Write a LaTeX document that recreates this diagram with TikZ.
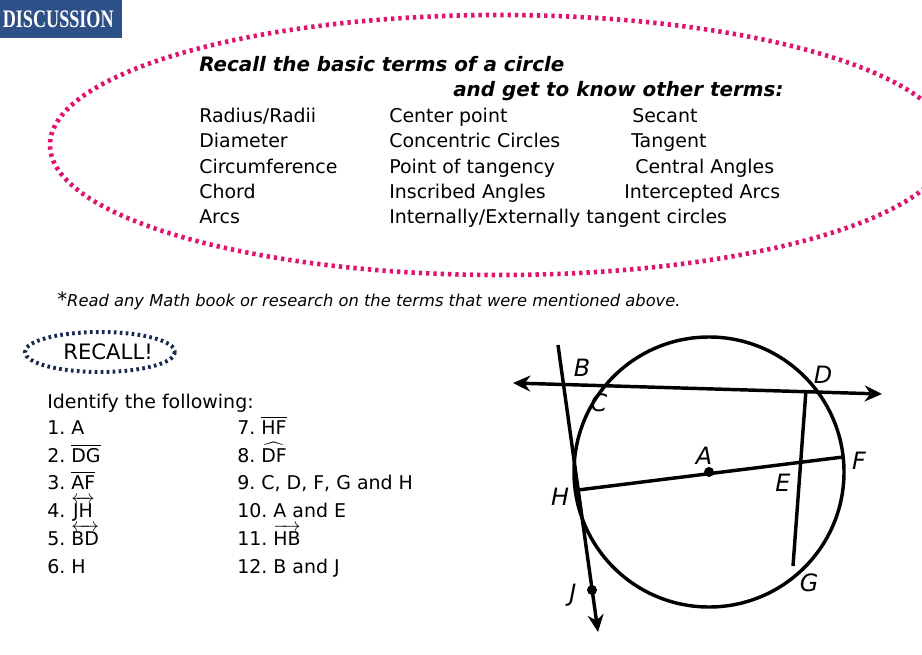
\documentclass[tikz,border=0pt]{standalone}
\usepackage{amsmath}
\usepackage{fontspec}
\setmainfont{DejaVu Sans}
\newfontfamily\badgefont{Liberation Serif}
\usetikzlibrary{arrows.meta}
\definecolor{dotpink}{RGB}{222,20,110}
\definecolor{badgeblue}{RGB}{44,80,135}
\definecolor{recallnavy}{RGB}{25,40,80}
\tikzset{
termtext/.style={anchor=base west, font=\fontsize{14.3}{16}\selectfont, inner sep=0pt},
listtext/.style={anchor=base west, font=\fontsize{14.3}{16}\selectfont, inner sep=0pt},
ptlabel/.style={font=\fontsize{18}{20}\selectfont\itshape},
geoline/.style={line width=2.6pt},
arrowline/.style={line width=2.6pt, -{Stealth[length=13pt,width=12pt]}},
}
\begin{document}
\begin{tikzpicture}[x=0.0265cm, y=-0.0265cm]
\useasboundingbox (0,0) rectangle (922,655);
\clip (0,0) rectangle (922,655);

%Banner
\node[fill=badgeblue, text=white, minimum width=128*0.0265cm, minimum height=38*0.0265cm, anchor=north west, inner sep=0pt,
  font=\badgefont\bfseries\fontsize{19}{21}\selectfont] (discussion_node) at (-6,0) {\scalebox{0.72}[1]{DISCUSSION}};

%Big ellipse
\draw[dotpink, line width=3.5pt, dash pattern=on 2.5pt off 3pt] (500,145) ellipse [x radius=450, y radius=130];
\node[termtext, font=\fontsize{15}{17}\selectfont\bfseries\itshape] (recall_head) at (199,72) {Recall the basic terms of a circle};
\node[termtext, font=\fontsize{15}{17}\selectfont\bfseries\itshape] (recall_sub) at (453,97) {and get to know other terms:};
\node[termtext] (t11) at (199,123) {Radius/Radii};
\node[termtext] (t12) at (389,123) {Center point};
\node[termtext] (t13) at (632,123) {Secant};
\node[termtext] (t21) at (199,148) {Diameter};
\node[termtext] (t22) at (389,148) {Concentric Circles};
\node[termtext] (t23) at (631,148) {Tangent};
\node[termtext] (t31) at (199,174) {Circumference};
\node[termtext] (t32) at (389,174) {Point of tangency};
\node[termtext] (t33) at (635,174) {Central Angles};
\node[termtext] (t41) at (199,199) {Chord};
\node[termtext] (t42) at (389,199) {Inscribed Angles};
\node[termtext] (t43) at (624,199) {Intercepted Arcs};
\node[termtext] (t51) at (199,224) {Arcs};
\node[termtext] (t52) at (389,224) {Internally/Externally tangent circles};

\node[termtext, font=\fontsize{12.3}{14}\selectfont] (note_node) at (57,306) {{\fontsize{15}{16}\selectfont*}\itshape Read any Math book or research on the terms that were mentioned above.};

%Recall
\draw[recallnavy, line width=3pt, dash pattern=on 2pt off 2.5pt] (100,352) ellipse [x radius=75, y radius=20];
\node[termtext, font=\fontsize{16}{18}\selectfont] (recall_node) at (63,359) {RECALL!};
\node[listtext] (identify_node) at (47,408) {Identify the following:};
\node[listtext] (q1) at (47,434) {1.\ A};
\node[listtext] (q2) at (47,462) {2.\ $\overline{\mathrm{DG}}$};
\node[listtext] (q3) at (47,489) {3.\ $\overline{\mathrm{AF}}$};
\node[listtext] (q4) at (47,517) {4.\ $\overleftrightarrow{\mathrm{JH}}$};
\node[listtext] (q5) at (47,545) {5.\ $\overleftrightarrow{\mathrm{BD}}$};
\node[listtext] (q6) at (47,573) {6.\ H};
\node[listtext] (q7) at (237,434) {7.\ $\overline{\mathrm{HF}}$};
\node[listtext] (q8) at (237,462) {8.\ $\widehat{\mathrm{DF}}$};
\node[listtext] (q9) at (237,489) {9.\ C, D, F, G and H};
\node[listtext] (q10) at (237,517) {10.\ A and E};
\node[listtext] (q11) at (237,545) {11.\ $\overrightarrow{\mathrm{HB}}$};
\node[listtext] (q12) at (237,573) {12.\ B and J};

%Figure
\coordinate (A) at (709,472);
\coordinate (D) at (806,390);
\coordinate (G) at (793,566);
\coordinate (H) at (578,490);
\coordinate (F) at (843,457);
\coordinate (J) at (592,590);
\coordinate (top_end) at (558,345);
\coordinate (bottom_end) at (598,632);
\coordinate (left_end) at (513,383);
\coordinate (right_end) at (882,394);
\draw[geoline] (A) circle [radius=135];
\draw[arrowline, {Stealth[length=13pt,width=12pt]}-{Stealth[length=13pt,width=12pt]}] (left_end) -- (right_end);
\draw[geoline] (H) -- (F);
\draw[geoline] (D) -- (G);
\draw[arrowline] (top_end) -- (bottom_end);
\fill (A) circle [radius=5];
\fill (J) circle [radius=5];

\node[ptlabel] (B_label) at (582,368) {B};
\node[ptlabel] (C_label) at (599,403) {C};
\node[ptlabel] (D_label) at (823,375) {D};
\node[ptlabel] (A_label) at (704,456) {A};
\node[ptlabel] (E_label) at (783,483) {E};
\node[ptlabel] (F_label) at (859,461) {F};
\node[ptlabel] (H_label) at (560,497) {H};
\node[ptlabel] (G_label) at (809,583) {G};
\node[ptlabel] (J_label) at (573,595) {J};
\end{tikzpicture}
\end{document}
